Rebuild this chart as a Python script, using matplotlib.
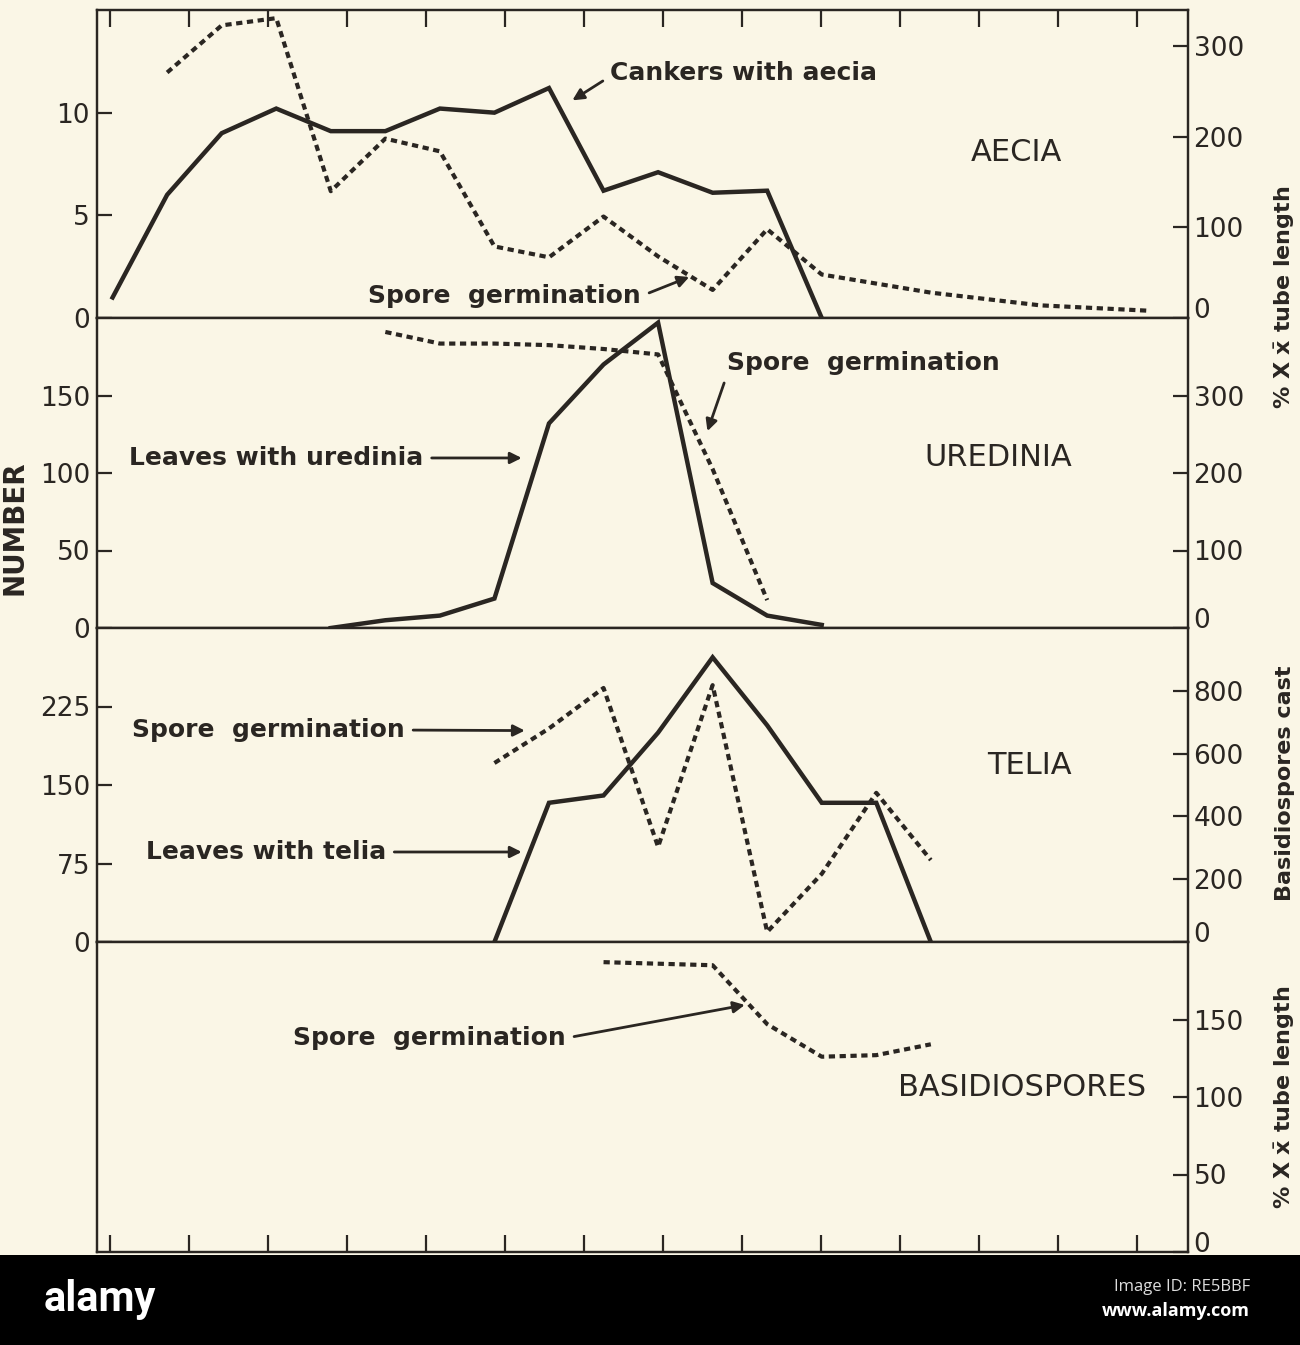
import numpy as np
import matplotlib.pyplot as plt
from matplotlib.patches import Rectangle

# sampling dates, days from first tick (3-week intervals)
aecia_days = [1, 22, 43, 64, 85, 106, 127, 148, 169, 190, 211, 232, 253, 274]
aecia_cankers = [1, 6, 9, 10.2, 9.1, 9.1, 10.2, 10.0, 11.2, 6.2, 7.1, 6.1, 6.2, 0]
aecia_germ_days = [22, 43, 64, 85, 106, 127, 148, 169, 190, 211, 232, 253, 274,
                   295, 316, 337, 358, 379, 400]
aecia_germ = [271, 323, 331, 140, 198, 184, 79, 67, 112, 68, 31, 98, 48,
              38, 28, 21, 14, 11, 8]

ured_days = [85, 106, 127, 148, 169, 190, 211, 232, 253, 274]
ured_leaves = [0, 5, 8, 19, 132, 170, 197, 29, 8, 2]
ured_germ_days = [106, 127, 148, 169, 190, 211, 232, 253]
ured_germ = [382, 367, 367, 365, 360, 353, 205, 36]

telia_days = [148, 169, 190, 211, 232, 253, 274, 295, 316]
telia_leaves = [0, 133, 140, 200, 272, 207, 133, 133, 0]
telia_cast = [570, 680, 809, 303, 818, 32, 217, 475, 261]

basid_days = [190, 211, 232, 253, 274, 295, 316]
basid_germ = [187, 186, 185, 147, 126, 127, 134]

month_ticks = np.arange(14) * 30.4

ink = '#2a2622'
bg = '#faf6e6'
dash = (0, (1.5, 1.1))
plt.rcParams['font.family'] = 'DejaVu Sans'

W, H = 1300, 1345
fig = plt.figure(figsize=(13, 13.45), dpi=100)
fig.patch.set_facecolor(bg)

left_px, right_px = 97, 1188
edges = [10, 318, 628, 942, 1252]
left_lims = [(0, 15), (0, 200), (0, 300), (0, 200)]
right_lims = [(0, 340), (0, 400), (0, 1000), (0, 200)]
left_ticks = [[0, 5, 10], [0, 50, 100, 150], [0, 75, 150, 225], []]
right_ticks = [[0, 100, 200, 300], [0, 100, 200, 300], [0, 200, 400, 600, 800],
               [0, 50, 100, 150]]

axes = []
twins = []
for i in range(4):
    top, bot = edges[i], edges[i + 1]
    ax = fig.add_axes([left_px / W, 1 - bot / H, (right_px - left_px) / W, (bot - top) / H])
    ax.set_facecolor(bg)
    ax.set_xlim(-5, 415)
    ax.set_ylim(*left_lims[i])
    tw = ax.twinx()
    tw.set_ylim(*right_lims[i])
    for a in (ax, tw):
        for s in a.spines.values():
            s.set_color(ink)
            s.set_linewidth(1.6)
    ax.set_yticks(left_ticks[i])
    tw.set_yticks(right_ticks[i])
    ax.tick_params(axis='y', direction='in', length=11, width=1.6, color=ink,
                   labelsize=19, labelcolor=ink, pad=5)
    tw.tick_params(axis='y', direction='in', length=11, width=1.6, color=ink,
                   labelsize=19, labelcolor=ink, pad=4)
    # right-hand zero sits on its baseline, just above the panel edge
    tw.get_yticklabels()[0].set_va('baseline')
    ax.set_xticks(month_ticks)
    ax.tick_params(axis='x', direction='in', length=12, width=1.6, color=ink,
                   labelbottom=False, labeltop=False,
                   top=(i == 0), bottom=(i == 3))
    axes.append(ax)
    twins.append(tw)

ax1, ax2, ax3, ax4 = axes
tw1, tw2, tw3, tw4 = twins

line_kw = dict(color=ink, lw=3.2, solid_joinstyle='miter')
dash_kw = dict(color=ink, lw=3.0, linestyle=dash)

ax1.plot(aecia_days, aecia_cankers, **line_kw)
tw1.plot(aecia_germ_days, aecia_germ, **dash_kw)
ax2.plot(ured_days, ured_leaves, **line_kw)
tw2.plot(ured_germ_days, ured_germ, **dash_kw)
ax3.plot(telia_days, telia_leaves, **line_kw)
tw3.plot(telia_days, telia_cast, **dash_kw)
tw4.plot(basid_days, basid_germ, **dash_kw)

txt_kw = dict(fontsize=18, fontweight='bold', color=ink, ha='center', va='center')
lab_kw = dict(fontsize=22, color=ink, ha='center', va='center')


def note(ax, text, xy, xytext, relpos):
    ax.annotate(text, xy=xy, xytext=xytext, textcoords='data', **txt_kw,
                arrowprops=dict(arrowstyle='-|>', color=ink, lw=2.0,
                                mutation_scale=17, shrinkA=4, shrinkB=0,
                                relpos=relpos))


note(ax1, 'Cankers with aecia', (178, 10.6), (244, 11.95), (0, 0.35))
note(ax1, 'Spore  germination', (223, 2.0), (152, 1.07), (1, 0.5))
ax1.text(349, 8.05, 'AECIA', **lab_kw)

note(ax2, 'Spore  germination', (230, 127), (290, 171), (0, 0.0))
note(ax2, 'Leaves with uredinia', (158.5, 109.7), (64, 109.7), (1, 0.5))
ax2.text(342, 110, 'UREDINIA', **lab_kw)

note(ax3, 'Spore  germination', (159.7, 202), (61, 202.5), (1, 0.5))
note(ax3, 'Leaves with telia', (158.5, 86), (60, 86), (1, 0.5))
ax3.text(354, 169, 'TELIA', **lab_kw)

note(ax4, 'Spore  germination', (244.4, 159.4), (123, 138), (1, 0.5))
ax4.text(351, 106, 'BASIDIOSPORES', **lab_kw)

side_kw = dict(fontsize=16, fontweight='bold', color=ink, rotation=90,
               ha='center', va='center')
fig.text(1285 / W, 1 - 297 / H, r'% X $\bar{\mathbf{x}}$ tube length', **side_kw)
fig.text(1285 / W, 1 - 783 / H, 'Basidiospores cast', **side_kw)
fig.text(1285 / W, 1 - 1097 / H, r'% X $\bar{\mathbf{x}}$ tube length', **side_kw)
fig.text(15 / W, 1 - 528 / H, 'NUMBER', fontsize=20, fontweight='bold', color=ink,
         rotation=90, ha='center', va='center')

# stock-image footer band
fig.patches.append(Rectangle((0, 0), 1, 90 / H, transform=fig.transFigure,
                             facecolor='black', edgecolor='none', zorder=0))
fig.text(100 / W, 1 - 1300 / H, 'alamy', fontsize=30, fontweight='bold',
         color='white', ha='center', va='center', family='Roboto')
fig.text(1250 / W, 1 - 1287 / H, 'Image ID: RE5BBF', fontsize=12,
         color='#dddddd', ha='right', va='center', family='Open Sans')
fig.text(1250 / W, 1 - 1311 / H, 'www.alamy.com', fontsize=13, fontweight='bold',
         color='white', ha='right', va='center', family='Open Sans')

fig.savefig('out.png', dpi=100, facecolor=bg)
